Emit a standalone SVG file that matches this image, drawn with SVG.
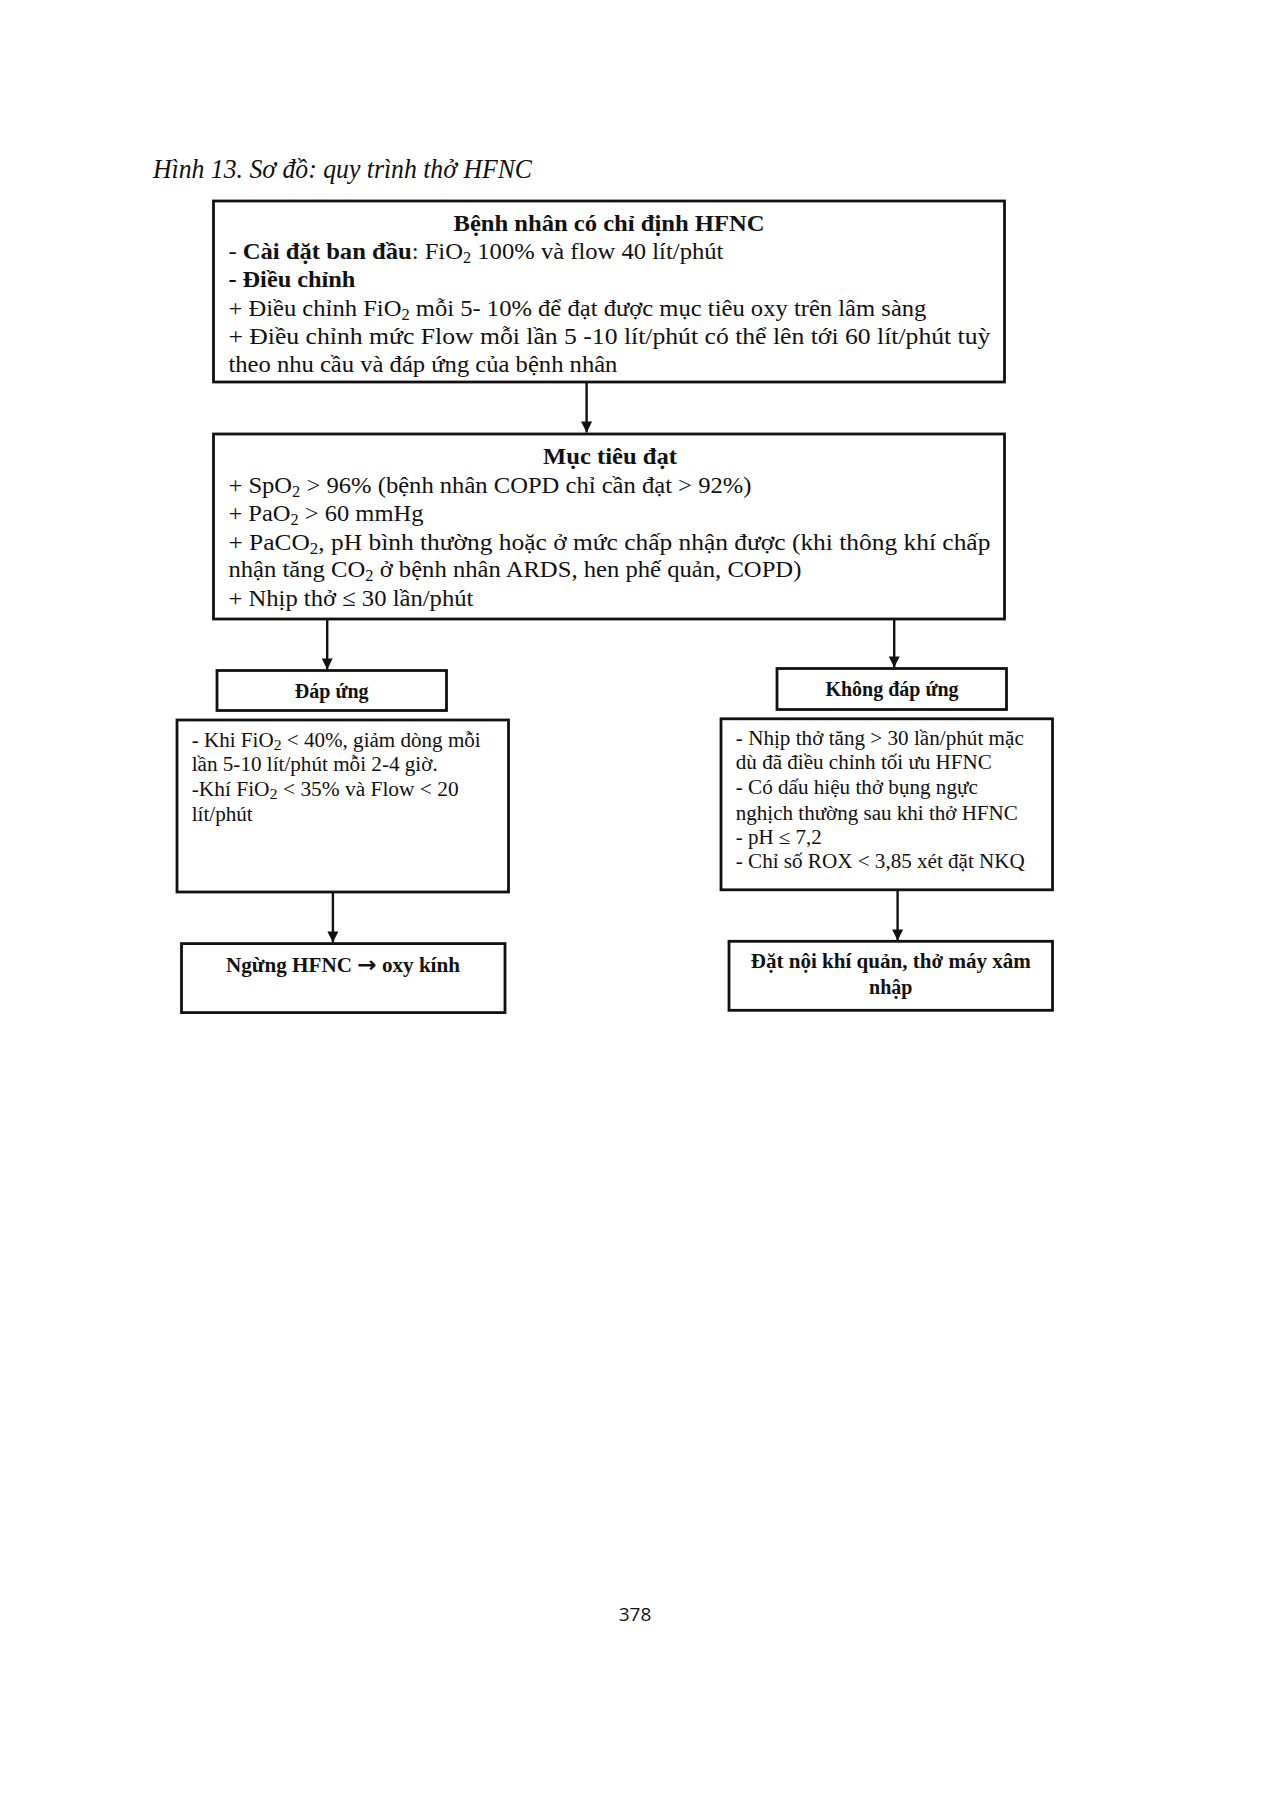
<svg xmlns="http://www.w3.org/2000/svg" width="1273" height="1800" viewBox="0 0 1273 1800">
<style>
.bg{fill:#fff}
.box{fill:#fff;stroke:#111;stroke-width:2.8}
.t{font-family:"Liberation Serif","Times New Roman",serif;fill:#111}
.m{font-size:24px}
.s{font-size:20px}
.b{font-weight:bold}
.c{text-anchor:middle}
.cap{font-family:"Liberation Serif","Times New Roman",serif;font-style:italic;font-size:27px;fill:#111}
.pg{font-family:"Open Sans","Liberation Sans",sans-serif;font-size:19px;fill:#111;text-anchor:middle}
.conn line{stroke:#111;stroke-width:2.4;marker-end:url(#ah)}
.arr{font-family:"DejaVu Sans",sans-serif;font-weight:bold;font-size:22px}
</style>
<defs>
<marker id="ah" viewBox="0 0 10 10" refX="10" refY="5" markerWidth="4.6" markerHeight="4.6" markerUnits="strokeWidth" orient="auto">
<path d="M0,0 L10,5 L0,10 z" fill="#111"/>
</marker>
</defs>
<rect class="bg" x="0" y="0" width="1273" height="1800"/>

<text class="cap" x="153" y="178" textLength="379" lengthAdjust="spacingAndGlyphs">Hình 13. Sơ đồ: quy trình thở HFNC</text>

<g id="connectors" class="conn">
<line x1="586.6" y1="383" x2="586.6" y2="432.5"/>
<line x1="327.2" y1="619.5" x2="327.2" y2="669.5"/>
<line x1="894.2" y1="619.5" x2="894.2" y2="667.5"/>
<line x1="332.9" y1="893" x2="332.9" y2="942.5"/>
<line x1="897.6" y1="890.5" x2="897.6" y2="940.5"/>
</g>

<g id="node-start">
<rect class="box" x="213.5" y="201" width="791" height="181"/>
<text class="t m b c" x="609" y="231" textLength="311" lengthAdjust="spacingAndGlyphs">Bệnh nhân có chỉ định HFNC</text>
<text class="t m" x="228.4" y="259.4" textLength="495" lengthAdjust="spacingAndGlyphs">- <tspan class="b">Cài đặt ban đầu</tspan>: FiO<tspan font-size="16" dy="4">2</tspan><tspan dy="-4"> 100% và flow 40 lít/phút</tspan></text>
<text class="t m b" x="228.4" y="287" textLength="127" lengthAdjust="spacingAndGlyphs">- Điều chỉnh</text>
<text class="t m" x="228.4" y="315.7" textLength="698" lengthAdjust="spacingAndGlyphs">+ Điều chỉnh FiO<tspan font-size="16" dy="4">2</tspan><tspan dy="-4"> mỗi 5- 10% để đạt được mục tiêu oxy trên lâm sàng</tspan></text>
<text class="t m" x="228.4" y="344.4" textLength="762" lengthAdjust="spacingAndGlyphs">+ Điều chỉnh mức Flow mỗi lần 5 -10 lít/phút có thể lên tới 60 lít/phút tuỳ</text>
<text class="t m" x="228.4" y="372" textLength="389" lengthAdjust="spacingAndGlyphs">theo nhu cầu và đáp ứng của bệnh nhân</text>
</g>

<g id="node-target">
<rect class="box" x="213.5" y="434" width="791" height="185"/>
<text class="t m b c" x="610" y="463.7" textLength="134" lengthAdjust="spacingAndGlyphs">Mục tiêu đạt</text>
<text class="t m" x="228.4" y="492.5" textLength="523" lengthAdjust="spacingAndGlyphs">+ SpO<tspan font-size="16" dy="4">2</tspan><tspan dy="-4"> &gt; 96% (bệnh nhân COPD chỉ cần đạt &gt; 92%)</tspan></text>
<text class="t m" x="228.4" y="521.2" textLength="195" lengthAdjust="spacingAndGlyphs">+ PaO<tspan font-size="16" dy="4">2</tspan><tspan dy="-4"> &gt; 60 mmHg</tspan></text>
<text class="t m" x="228.4" y="549.8" textLength="762" lengthAdjust="spacingAndGlyphs">+ PaCO<tspan font-size="16" dy="4">2</tspan><tspan dy="-4">, pH bình thường hoặc ở mức chấp nhận được (khi thông khí chấp</tspan></text>
<text class="t m" x="228.4" y="577.4" textLength="573" lengthAdjust="spacingAndGlyphs">nhận tăng CO<tspan font-size="16" dy="4">2</tspan><tspan dy="-4"> ở bệnh nhân ARDS, hen phế quản, COPD)</tspan></text>
<text class="t m" x="228.4" y="606.1" textLength="245" lengthAdjust="spacingAndGlyphs">+ Nhịp thở ≤ 30 lần/phút</text>
</g>

<g id="node-response">
<rect class="box" x="217" y="670.5" width="229.5" height="40"/>
<text class="t b c" font-size="20" x="331.7" y="698">Đáp ứng</text>
</g>

<g id="node-noresponse">
<rect class="box" x="777" y="668.5" width="229.5" height="41"/>
<text class="t b c" font-size="20" x="892" y="695.6">Không đáp ứng</text>
</g>

<g id="node-response-detail">
<rect class="box" x="177" y="720" width="331.5" height="172"/>
<text class="t s" x="191.7" y="747.3" textLength="289" lengthAdjust="spacingAndGlyphs">- Khi FiO<tspan font-size="15" dy="3">2</tspan><tspan dy="-3"> &lt; 40%, giảm dòng mỗi</tspan></text>
<text class="t s" x="191.7" y="771.4" textLength="246" lengthAdjust="spacingAndGlyphs">lần 5-10 lít/phút mỗi 2-4 giờ.</text>
<text class="t s" x="191.7" y="795.5" textLength="267" lengthAdjust="spacingAndGlyphs">-Khí FiO<tspan font-size="15" dy="3">2</tspan><tspan dy="-3">  &lt; 35% và Flow &lt; 20</tspan></text>
<text class="t s" x="191.7" y="820.7" textLength="61" lengthAdjust="spacingAndGlyphs">lít/phút</text>
</g>

<g id="node-noresponse-detail">
<rect class="box" x="721" y="718.8" width="331.5" height="171"/>
<text class="t s" x="735.8" y="745" textLength="288" lengthAdjust="spacingAndGlyphs">- Nhịp thở tăng &gt; 30 lần/phút mặc</text>
<text class="t s" x="735.8" y="769" textLength="256" lengthAdjust="spacingAndGlyphs">dù đã điều chỉnh tối ưu HFNC</text>
<text class="t s" x="735.8" y="794.3" textLength="242" lengthAdjust="spacingAndGlyphs">- Có dấu hiệu thở bụng ngực</text>
<text class="t s" x="735.8" y="819.6" textLength="282" lengthAdjust="spacingAndGlyphs">nghịch thường sau khi thở HFNC</text>
<text class="t s" x="735.8" y="843.7" textLength="86" lengthAdjust="spacingAndGlyphs">- pH ≤ 7,2</text>
<text class="t s" x="735.8" y="867.8" textLength="289" lengthAdjust="spacingAndGlyphs">- Chỉ số ROX &lt; 3,85 xét đặt NKQ</text>
</g>

<g id="node-stop">
<rect class="box" x="181.5" y="943.6" width="323.5" height="69"/>
<text class="t b c" font-size="20" x="343" y="972.3" textLength="234" lengthAdjust="spacingAndGlyphs">Ngừng HFNC <tspan class="arr">→</tspan> oxy kính</text>
</g>

<g id="node-intubate">
<rect class="box" x="729" y="941.3" width="323.5" height="69"/>
<text class="t b c" font-size="20" x="890.8" y="967.7" textLength="280" lengthAdjust="spacingAndGlyphs">Đặt nội khí quản, thở máy xâm</text>
<text class="t b c" font-size="20" x="890.8" y="994">nhập</text>
</g>

<text class="pg" x="635" y="1621">378</text>
</svg>
